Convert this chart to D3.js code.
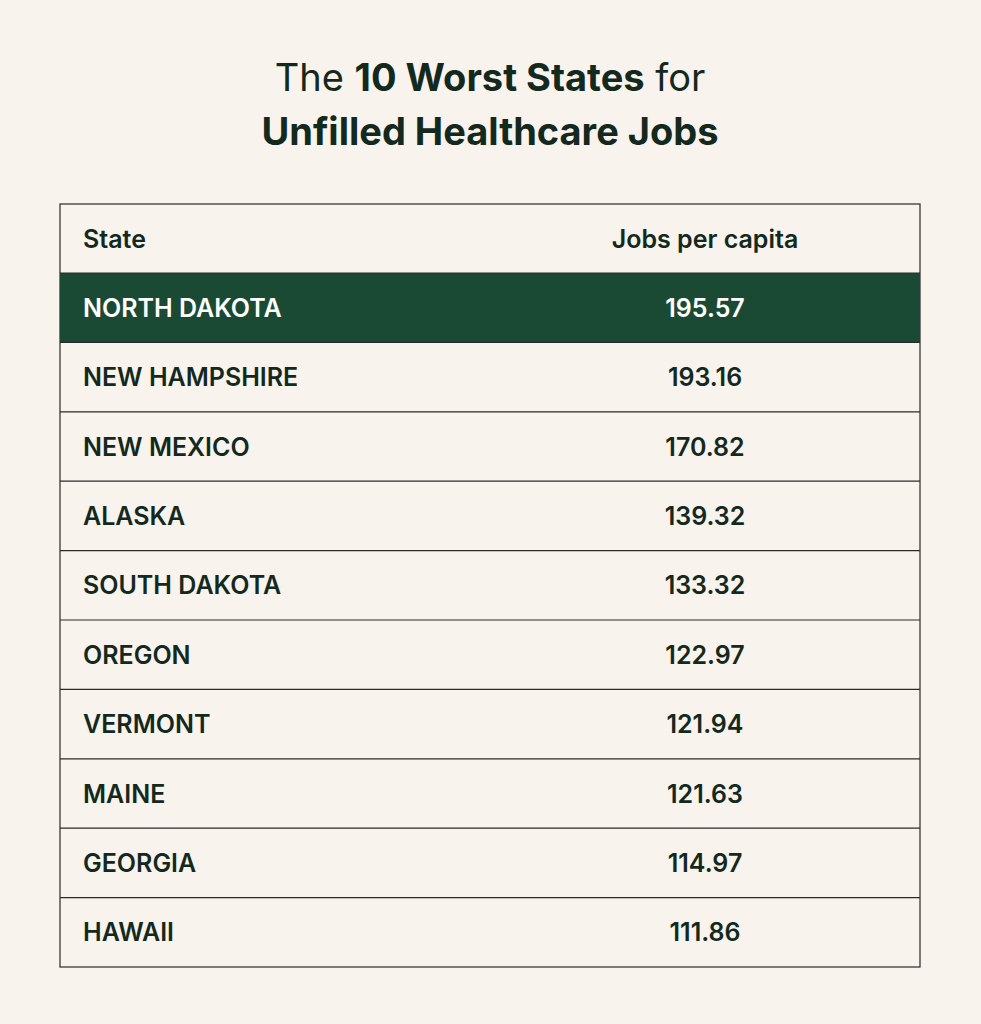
<!DOCTYPE html>
<html><head><meta charset="utf-8">
<script src="https://cdn.jsdelivr.net/npm/d3@7"></script>
<style>body{margin:0;background:#f8f3ed;}</style>
</head><body>
<svg id="c" width="981" height="1024"></svg>
<script>
const states=["NORTH DAKOTA","NEW HAMPSHIRE","NEW MEXICO","ALASKA","SOUTH DAKOTA","OREGON","VERMONT","MAINE","GEORGIA","HAWAII"];
const values=[195.57,193.16,170.82,139.32,133.32,122.97,121.94,121.63,114.97,111.86];
const headers=["State","Jobs per capita"];

(function(){
const svg=d3.select("#c");
const dark="#14291d", green="#1b4a34", font="Inter, 'Open Sans', sans-serif";
svg.append("rect").attr("width",981).attr("height",1024).attr("fill","#f8f3ed");

const t1=svg.append("text").attr("x",490).attr("y",91).attr("text-anchor","middle")
 .attr("font-family",font).attr("font-size",38).attr("fill",dark);
t1.append("tspan").text("The ").attr("font-weight",400);
t1.append("tspan").text("10 Worst States").attr("font-weight",700);
t1.append("tspan").text(" for").attr("font-weight",400);
svg.append("text").attr("x",490).attr("y",145).attr("text-anchor","middle")
 .attr("font-family",font).attr("font-size",38).attr("font-weight",700).attr("fill",dark)
 .text("Unfilled Healthcare Jobs");

const tL=60,tR=920,tT=204,hdrH=69,tB=967;
const y=d3.scaleBand().domain(states).range([tT+hdrH,tB]);
const g=svg.append("g");
g.append("rect").attr("x",tL).attr("y",tT).attr("width",tR-tL).attr("height",tB-tT)
 .attr("fill","none").attr("stroke","#2a2a2a").attr("stroke-width",1.2);
g.append("text").attr("x",83).attr("y",tT+hdrH/2+9).attr("font-family",font).attr("font-size",25)
 .attr("font-weight",600).attr("fill",dark).text(headers[0]);
g.append("text").attr("x",705).attr("y",tT+hdrH/2+9).attr("text-anchor","middle").attr("font-family",font).attr("font-size",25)
 .attr("font-weight",600).attr("fill",dark).text(headers[1]);
const rows=g.selectAll("g.r").data(states).join("g").attr("class","r");
rows.append("rect").attr("x",tL).attr("y",d=>y(d)).attr("width",tR-tL).attr("height",y.bandwidth())
 .attr("fill",(d,i)=>i===0?green:"none");
rows.append("line").attr("x1",tL).attr("x2",tR).attr("y1",d=>y(d)).attr("y2",d=>y(d))
 .attr("stroke","#2a2a2a").attr("stroke-width",1.2);
rows.append("text").attr("x",83).attr("y",d=>y(d)+y.bandwidth()/2+9).attr("font-family",font).attr("font-size",25)
 .attr("font-weight",600).attr("fill",(d,i)=>i===0?"#ffffff":dark).text(d=>d);
rows.append("text").attr("x",705).attr("y",d=>y(d)+y.bandwidth()/2+9).attr("text-anchor","middle").attr("font-family",font).attr("font-size",25)
 .attr("font-weight",600).attr("fill",(d,i)=>i===0?"#ffffff":dark).text((d,i)=>values[i].toFixed(2));
})();
</script>
</body></html>
